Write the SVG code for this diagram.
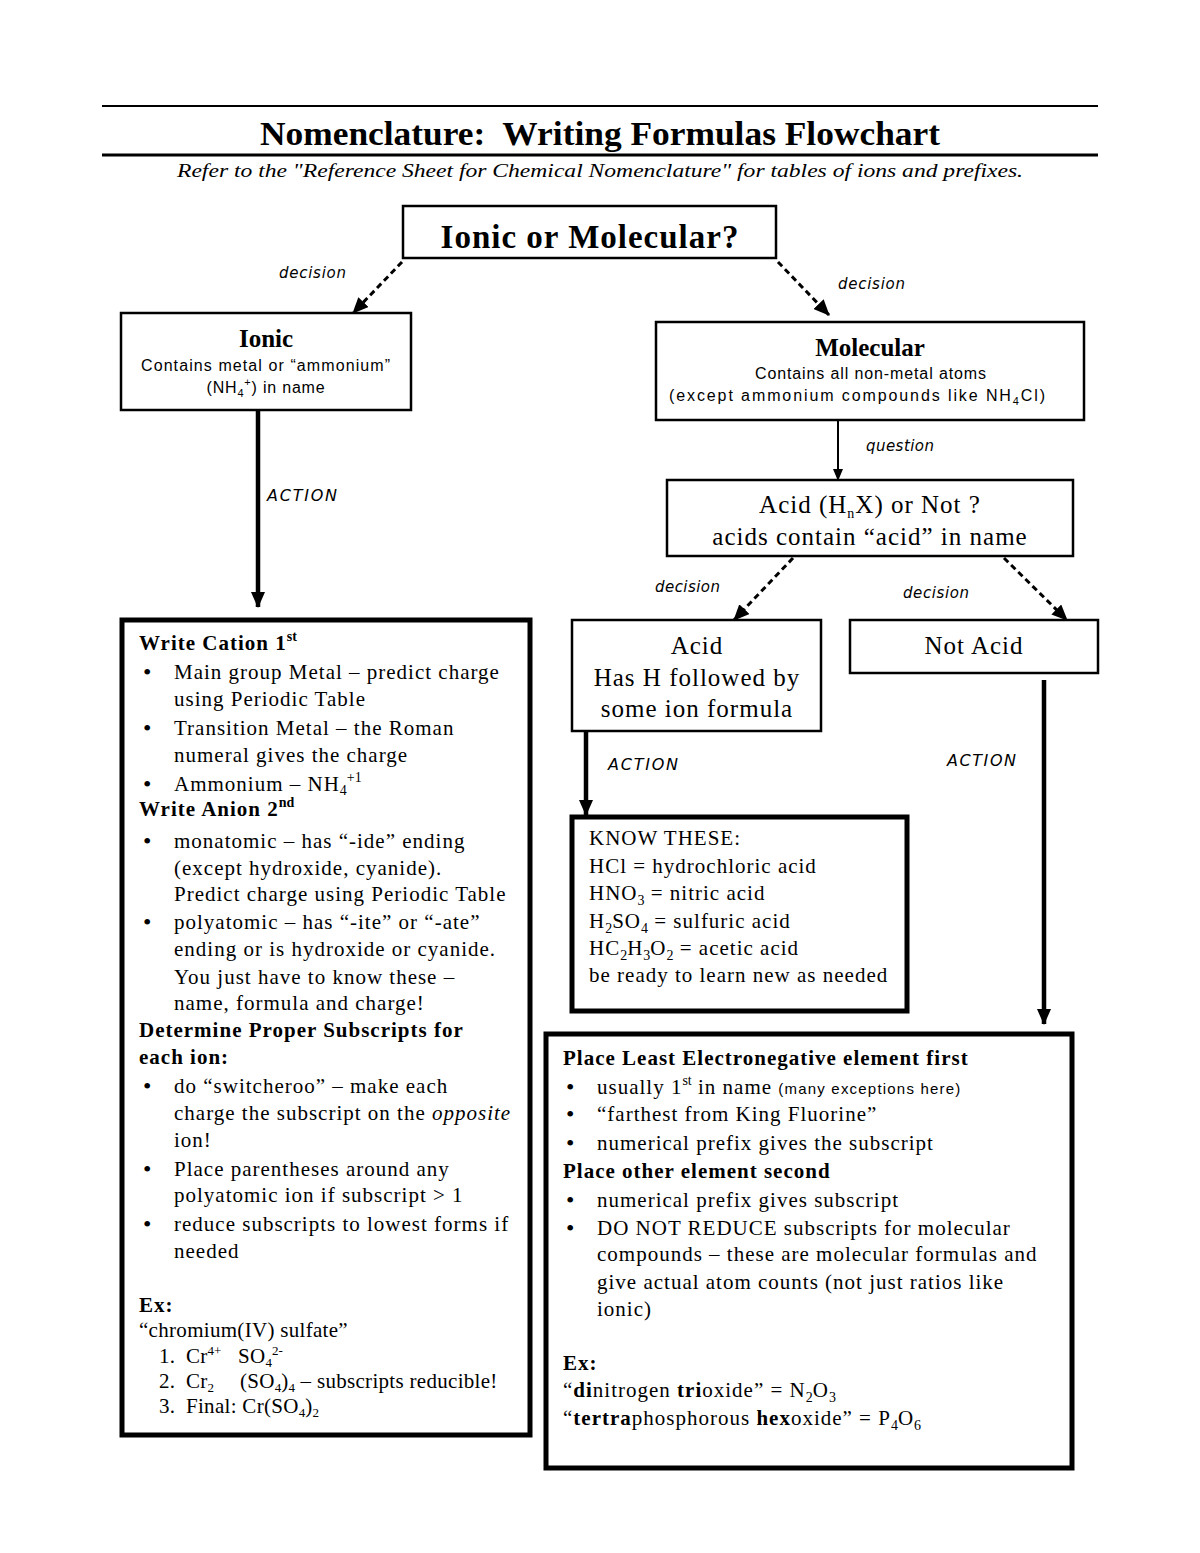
<svg xmlns="http://www.w3.org/2000/svg" width="1200" height="1553" viewBox="0 0 1200 1553">
<style>
.box{fill:#fff;stroke:#000;stroke-width:2.5}
.bbox{fill:#fff;stroke:#000;stroke-width:5}
.sf{font-family:"Liberation Serif","Times New Roman",serif;fill:#000}
.ls{letter-spacing:1px}
.ss{font-family:"Liberation Sans",Arial,sans-serif;fill:#000}
.lbl{font-family:"DejaVu Sans",Verdana,sans-serif;font-style:italic;font-size:15px;fill:#000}
.act{font-family:"DejaVu Sans",Verdana,sans-serif;font-style:italic;font-size:16px;fill:#000}
.body{font-family:"Liberation Serif","Times New Roman",serif;font-size:21px;letter-spacing:1px;fill:#000}
.ex{font-size:21px;letter-spacing:0.3px}
.bul{font-family:"Liberation Serif","Times New Roman",serif;font-size:24px;fill:#000}
.b{font-weight:bold}
.dash{stroke:#000;stroke-width:3;stroke-dasharray:6 4;fill:none}
.thick{stroke:#000;stroke-width:4.5;fill:none}
.thin{stroke:#000;stroke-width:2;fill:none}
.sub{font-size:14px;letter-spacing:0}
.sm{font-size:13px;letter-spacing:0}
</style>
<defs>
<marker id="ah" viewBox="0 0 16 14" refX="15" refY="7" markerWidth="16" markerHeight="14" markerUnits="userSpaceOnUse" orient="auto">
<path d="M0,0 L16,7 L0,14 z" fill="#000"/>
</marker>
<marker id="ahs" viewBox="0 0 12 10" refX="11" refY="5" markerWidth="12" markerHeight="10" markerUnits="userSpaceOnUse" orient="auto">
<path d="M0,0 L12,5 L0,10 z" fill="#000"/>
</marker>
</defs>

<g id="header">
<line x1="102" y1="106" x2="1098" y2="106" stroke="#000" stroke-width="2"/>
<text class="sf b" x="600" y="145" font-size="33" text-anchor="middle" textLength="680" lengthAdjust="spacingAndGlyphs" xml:space="preserve">Nomenclature:  Writing Formulas Flowchart</text>
<line x1="102" y1="155" x2="1098" y2="155" stroke="#000" stroke-width="3"/>
<text class="sf" x="600" y="177" font-size="19" font-style="italic" text-anchor="middle" textLength="846" lengthAdjust="spacingAndGlyphs">Refer to the "Reference Sheet for Chemical Nomenclature" for tables of ions and prefixes.</text>
</g>

<g id="connectors">
<line class="dash" x1="402" y1="262" x2="353" y2="313" marker-end="url(#ah)"/>
<line class="dash" x1="778" y1="262" x2="829" y2="315" marker-end="url(#ah)"/>
<line class="thick" x1="258" y1="411" x2="258" y2="607" marker-end="url(#ah)"/>
<line class="thin" x1="838" y1="421" x2="838" y2="480" marker-end="url(#ahs)"/>
<line class="dash" x1="793" y1="558" x2="734" y2="620" marker-end="url(#ah)"/>
<line class="dash" x1="1004" y1="558" x2="1067" y2="620" marker-end="url(#ah)"/>
<line class="thick" x1="586" y1="731" x2="586" y2="815" marker-end="url(#ah)"/>
<line class="thick" x1="1044" y1="680" x2="1044" y2="1024" marker-end="url(#ah)"/>
<text class="lbl" x="279" y="278" textLength="67" lengthAdjust="spacing">decision</text>
<text class="lbl" x="838" y="289" textLength="67" lengthAdjust="spacing">decision</text>
<text class="act" x="267" y="501" textLength="70" lengthAdjust="spacing">ACTION</text>
<text class="lbl" x="866" y="451" textLength="68" lengthAdjust="spacing">question</text>
<text class="lbl" x="655" y="592" textLength="65" lengthAdjust="spacing">decision</text>
<text class="lbl" x="903" y="598" textLength="66" lengthAdjust="spacing">decision</text>
<text class="act" x="608" y="770" textLength="70" lengthAdjust="spacing">ACTION</text>
<text class="act" x="947" y="766" textLength="69" lengthAdjust="spacing">ACTION</text>
</g>

<g id="node-ionic-or-molecular">
<rect class="box" x="403" y="206" width="373" height="52"/>
<text class="sf b ls" x="590" y="248" font-size="33" text-anchor="middle">Ionic or Molecular?</text>
</g>

<g id="node-ionic">
<rect class="box" x="121" y="313" width="290" height="97"/>
<text class="sf b" x="266" y="347" font-size="25" text-anchor="middle">Ionic</text>
<text class="ss" x="141" y="371" font-size="16" textLength="249" lengthAdjust="spacing">Contains metal or “ammonium”</text>
<text class="ss" x="266" y="393" font-size="16" text-anchor="middle" style="letter-spacing:0.8px">(NH<tspan font-size="11" dy="4">4</tspan><tspan font-size="11" dy="-11">+</tspan><tspan dy="7">) in name</tspan></text>
</g>

<g id="node-molecular">
<rect class="box" x="656" y="322" width="428" height="98"/>
<text class="sf b" x="870" y="356" font-size="25" text-anchor="middle">Molecular</text>
<text class="ss" x="755" y="379" font-size="16" textLength="231" lengthAdjust="spacing">Contains all non-metal atoms</text>
<text class="ss" x="669" y="401" font-size="16" style="letter-spacing:1.9px">(except ammonium compounds like NH<tspan font-size="11" dy="4">4</tspan><tspan dy="-4">Cl)</tspan></text>
</g>

<g id="node-acid-or-not">
<rect class="box" x="667" y="480" width="406" height="76"/>
<text class="sf ls" x="870" y="513" font-size="25" text-anchor="middle">Acid (H<tspan font-size="14" dy="5">n</tspan><tspan dy="-5">X) or Not ?</tspan></text>
<text class="sf ls" x="870" y="545" font-size="25" text-anchor="middle">acids contain “acid” in name</text>
</g>

<g id="node-acid">
<rect class="box" x="572" y="620" width="249" height="111"/>
<text class="sf ls" x="697" y="654" font-size="25" text-anchor="middle">Acid</text>
<text class="sf ls" x="697" y="686" font-size="25" text-anchor="middle">Has H followed by</text>
<text class="sf ls" x="697" y="717" font-size="25" text-anchor="middle">some ion formula</text>
</g>

<g id="node-not-acid">
<rect class="box" x="850" y="620" width="248" height="53"/>
<text class="sf ls" x="974" y="654" font-size="25" text-anchor="middle">Not Acid</text>
</g>

<g id="node-know-these">
<rect class="bbox" x="572" y="817" width="335" height="194"/>
<text class="body" x="589" y="845">KNOW THESE:</text>
<text class="body" x="589" y="873">HCl = hydrochloric acid</text>
<text class="body" x="589" y="900">HNO<tspan class="sub" dy="5">3</tspan><tspan dy="-5"> = nitric acid</tspan></text>
<text class="body" x="589" y="928">H<tspan class="sub" dy="5">2</tspan><tspan dy="-5">SO</tspan><tspan class="sub" dy="5">4</tspan><tspan dy="-5"> = sulfuric acid</tspan></text>
<text class="body" x="589" y="955">HC<tspan class="sub" dy="5">2</tspan><tspan dy="-5">H</tspan><tspan class="sub" dy="5">3</tspan><tspan dy="-5">O</tspan><tspan class="sub" dy="5">2</tspan><tspan dy="-5"> = acetic acid</tspan></text>
<text class="body" x="589" y="982">be ready to learn new as needed</text>
</g>

<g id="node-ionic-steps">
<rect class="bbox" x="122" y="620" width="408" height="815"/>
<text class="body b" x="139" y="650">Write Cation 1<tspan class="sub" dy="-9">st</tspan></text>
<text class="bul" x="143" y="680">•</text><text class="body" x="174" y="679">Main group Metal – predict charge</text>
<text class="body" x="174" y="706">using Periodic Table</text>
<text class="bul" x="143" y="736">•</text><text class="body" x="174" y="735">Transition Metal – the Roman</text>
<text class="body" x="174" y="762">numeral gives the charge</text>
<text class="bul" x="143" y="792">•</text><text class="body" x="174" y="791">Ammonium – NH<tspan class="sub" dy="4">4</tspan><tspan class="sub" dy="-13">+1</tspan></text>
<text class="body b" x="139" y="816">Write Anion 2<tspan class="sub" dy="-9">nd</tspan></text>
<text class="bul" x="143" y="849">•</text><text class="body" x="174" y="848">monatomic – has “-ide” ending</text>
<text class="body" x="174" y="875">(except hydroxide, cyanide).</text>
<text class="body" x="174" y="901">Predict charge using Periodic Table</text>
<text class="bul" x="143" y="930">•</text><text class="body" x="174" y="929">polyatomic – has “-ite” or “-ate”</text>
<text class="body" x="174" y="956">ending or is hydroxide or cyanide.</text>
<text class="body" x="174" y="984">You just have to know these –</text>
<text class="body" x="174" y="1010">name, formula and charge!</text>
<text class="body b" x="139" y="1037">Determine Proper Subscripts for</text>
<text class="body b" x="139" y="1064">each ion:</text>
<text class="bul" x="143" y="1094">•</text><text class="body" x="174" y="1093">do “switcheroo” – make each</text>
<text class="body" x="174" y="1120">charge the subscript on the <tspan font-style="italic">opposite</tspan></text>
<text class="body" x="174" y="1147">ion!</text>
<text class="bul" x="143" y="1177">•</text><text class="body" x="174" y="1176">Place parentheses around any</text>
<text class="body" x="174" y="1202">polyatomic ion if subscript &gt; 1</text>
<text class="bul" x="143" y="1232">•</text><text class="body" x="174" y="1231">reduce subscripts to lowest forms if</text>
<text class="body" x="174" y="1258">needed</text>
<text class="body b" x="139" y="1312">Ex:</text>
<text class="body ex" x="139" y="1337">“chromium(IV) sulfate”</text>
<text class="body ex" x="159" y="1363">1.</text><text class="body ex" x="186" y="1363">Cr<tspan class="sm" dy="-8">4+</tspan></text><text class="body ex" x="238" y="1363">SO<tspan class="sm" dy="4">4</tspan><tspan class="sm" dy="-12">2-</tspan></text>
<text class="body ex" x="159" y="1388">2.</text><text class="body ex" x="186" y="1388">Cr<tspan class="sm" dy="4">2</tspan></text><text class="body ex" x="240" y="1388">(SO<tspan class="sm" dy="4">4</tspan><tspan dy="-4">)</tspan><tspan class="sm" dy="4">4</tspan><tspan dy="-4"> – subscripts reducible!</tspan></text>
<text class="body ex" x="159" y="1413">3.</text><text class="body ex" x="186" y="1413">Final:  Cr(SO<tspan class="sm" dy="4">4</tspan><tspan dy="-4">)</tspan><tspan class="sm" dy="4">2</tspan></text>
</g>

<g id="node-molecular-steps">
<rect class="bbox" x="546" y="1034" width="526" height="434"/>
<text class="body b" x="563" y="1065">Place Least Electronegative element first</text>
<text class="bul" x="566" y="1095">•</text><text class="body" x="597" y="1094">usually 1<tspan class="sub" dy="-9">st</tspan><tspan dy="9"> in name </tspan><tspan class="ss" font-size="15" style="letter-spacing:1.2px">(many exceptions here)</tspan></text>
<text class="bul" x="566" y="1122">•</text><text class="body" x="597" y="1121">“farthest from King Fluorine”</text>
<text class="bul" x="566" y="1151">•</text><text class="body" x="597" y="1150">numerical prefix gives the subscript</text>
<text class="body b" x="563" y="1178">Place other element second</text>
<text class="bul" x="566" y="1208">•</text><text class="body" x="597" y="1207">numerical prefix gives subscript</text>
<text class="bul" x="566" y="1236">•</text><text class="body" x="597" y="1235">DO NOT REDUCE subscripts for molecular</text>
<text class="body" x="597" y="1261">compounds – these are molecular formulas and</text>
<text class="body" x="597" y="1289">give actual atom counts (not just ratios like</text>
<text class="body" x="597" y="1316">ionic)</text>
<text class="body b" x="563" y="1370">Ex:</text>
<text class="body" x="563" y="1397">“<tspan font-weight="bold">di</tspan>nitrogen <tspan font-weight="bold">tri</tspan>oxide” = N<tspan class="sub" dy="5">2</tspan><tspan dy="-5">O</tspan><tspan class="sub" dy="5">3</tspan></text>
<text class="body" x="563" y="1425">“<tspan font-weight="bold">tertra</tspan>phosphorous <tspan font-weight="bold">hex</tspan>oxide” = P<tspan class="sub" dy="5">4</tspan><tspan dy="-5">O</tspan><tspan class="sub" dy="5">6</tspan></text>
</g>
</svg>
